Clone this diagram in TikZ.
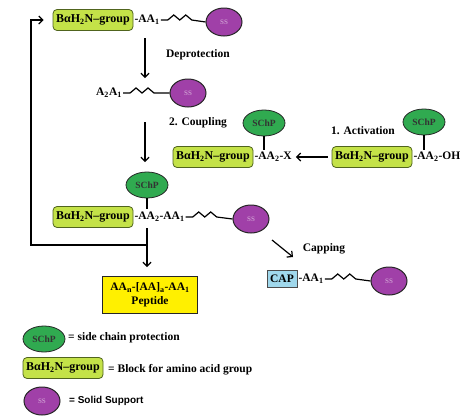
\documentclass[tikz,border=0pt]{standalone}
\usepackage{fontspec}
\setmainfont{Liberation Serif}
\newfontfamily\sansb{Liberation Sans}
\usetikzlibrary{shapes.geometric,arrows.meta}
\definecolor{grpfill}{RGB}{196,226,72}
\definecolor{grpdraw}{RGB}{80,100,30}
\definecolor{schpfill}{RGB}{48,170,80}
\definecolor{ssfill}{RGB}{160,64,168}
\definecolor{capfill}{RGB}{160,216,236}
\definecolor{pepfill}{RGB}{255,240,0}
\newcommand{\zigline}[2]{\draw[zz] (#1.east) -- ++(7,0) -- ++(6,-5) -- ++(6,5) -- ++(6,-5) -- ++(6,5) -- (#2.west);}
\begin{document}
\begin{tikzpicture}[x=1pt,y=-1pt, font=\fontsize{11.5}{13}\selectfont\bfseries,
 grp/.style={draw=grpdraw, fill=grpfill, rounded corners=4pt, line width=0.8pt, minimum width=80pt, minimum height=21pt, inner sep=1pt, font=\fontsize{12}{13}\selectfont\bfseries},
 schp/.style={ellipse, draw=black!85, fill=schpfill, line width=0.8pt, minimum width=42pt, minimum height=26pt, inner sep=0pt, font=\fontsize{9.5}{10}\selectfont\bfseries, text=black!80},
 ss/.style={ellipse, draw=black!85, fill=ssfill, line width=1pt, minimum width=36pt, minimum height=28pt, inner sep=0pt, font=\fontsize{7}{8}\selectfont\bfseries, text=white!45!ssfill},
 lbl/.style={inner sep=1pt},
 arr/.style={line width=1.2pt, -{Straight Barb[length=4pt,width=8pt]}},
 ln/.style={line width=1.2pt},
 zz/.style={line width=1.2pt},
]
\useasboundingbox (0,0) rectangle (474,418);
% row 1
\node[grp] (grp1) at (93,20) {BαH\textsubscript{2}N--group};
\node[lbl, anchor=west] (aa1t) at (grp1.east) {-AA\textsubscript{1}};
\node[ss] (ss1) at (224,22) {SS};
\zigline{aa1t}{ss1}
% arrow 1
\coordinate (d1s) at (145,38);
\coordinate (d1e) at (145,78);
\draw[arr] (d1s) -- (d1e);
\node[lbl] (deprot) at (198,55) {Deprotection};
% row 2
\node[lbl] (a2a1) at (109,93) {A\textsubscript{2}A\textsubscript{1}};
\node[ss] (ss2) at (188,93) {SS};
\zigline{a2a1}{ss2}
\node[lbl] (coupl) at (198,123) {2. Coupling};
\coordinate (d2s) at (145,122);
\coordinate (d2e) at (145,162);
\draw[arr] (d2s) -- (d2e);
% row 3
\node[grp] (grp3) at (213,157) {BαH\textsubscript{2}N--group};
\node[lbl, anchor=west] (aa2x) at (grp3.east) {-AA\textsubscript{2}-X};
\node[schp] (schp3) at (264,123) {SChP};
\coordinate (s3e) at (264,150);
\draw[ln] (schp3.south) -- (s3e);
\node[grp] (grp3r) at (372,157) {BαH\textsubscript{2}N--group};
\node[lbl, anchor=west] (aa2oh) at (grp3r.east) {-AA\textsubscript{2}-OH};
\node[schp] (schp3r) at (424,122) {SChP};
\coordinate (s3re) at (424,150);
\draw[ln] (schp3r.south) -- (s3re);
\draw[arr, shorten <=4pt, shorten >=3pt] (grp3r.west) -- (aa2x.east);
\node[lbl] (activ) at (363,131) {1. Activation};
% row 4
\node[schp] (schp4) at (147,185) {SChP};
\node[grp] (grp4) at (93,217) {BαH\textsubscript{2}N--group};
\node[lbl, anchor=west] (aa21) at (grp4.east) {-AA\textsubscript{2}-AA\textsubscript{1}};
\node[ss] (ss4) at (251,219) {SS};
\zigline{aa21}{ss4}
\coordinate (s4e) at (147,209);
\draw[ln] (schp4.south) -- (s4e);
\coordinate (bt) at (147,228);
\coordinate (j) at (147,245);
\coordinate (lc) at (31,245);
\draw[ln] (bt) -- (j);
% peptide
\node[draw=black!85, fill=pepfill, line width=1pt, minimum width=95pt, minimum height=37pt, align=center, inner sep=1pt, font=\fontsize{11.5}{14}\selectfont\bfseries] (pept) at (150,295) {AA\textsubscript{n}-[AA]\textsubscript{a}-AA\textsubscript{1}\\Peptide};
\draw[arr, shorten >=9pt] (j) -- (j |- pept.north);
\draw[arr, shorten >=9pt] (j) -- (lc) |- (grp1.west);
% capping
\coordinate (cs) at (272,240);
\coordinate (ce) at (293,257);
\draw[arr] (cs) -- (ce);
\node[lbl] (capp) at (324,249) {Capping};
\node[draw=black!70, fill=capfill, line width=0.8pt, minimum width=30pt, minimum height=17pt, inner sep=1pt, font=\fontsize{11.5}{12}\selectfont\bfseries] (cap) at (282,279) {CAP};
\node[lbl, anchor=west] (capaa) at (cap.east) {-AA\textsubscript{1}};
\node[ss] (ss5) at (389,281) {SS};
\zigline{capaa}{ss5}
% legend
\node[schp] (schpL) at (44,339) {SChP};
\node[lbl, anchor=west] (tL1) at (67,338) {= side chain protection};
\node[grp] (grpL) at (63,368) {BαH\textsubscript{2}N--group};
\node[lbl, anchor=west] (tL2) at (107,370) {= Block for amino acid group};
\node[ss] (ssL) at (42,401) {SS};
\node[lbl, anchor=west, font=\sansb\fontsize{10}{12}\selectfont\bfseries] (tL3) at (68,401) {= Solid Support};
\end{tikzpicture}
\end{document}
